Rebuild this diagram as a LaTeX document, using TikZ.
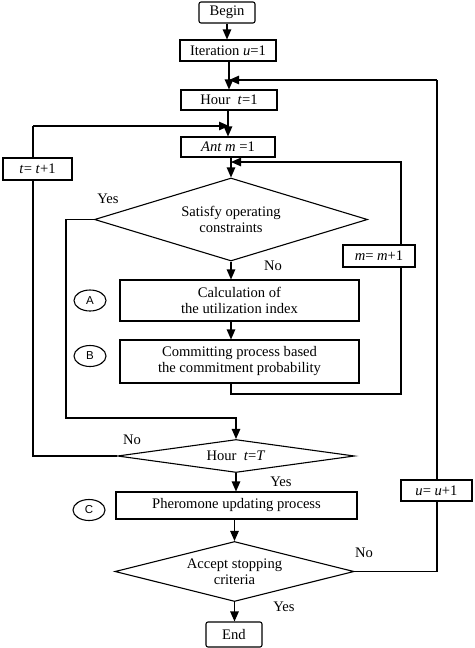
\documentclass[tikz,border=0pt]{standalone}
\usepackage{fontspec}
\setmainfont{Liberation Serif}
\newfontfamily\circfont{Liberation Sans}
\usetikzlibrary{shapes.geometric,arrows.meta}
\tikzset{
  box/.style={draw, rectangle, inner sep=0pt, align=center, fill=white},
  dia/.style={draw, diamond, inner sep=0pt, align=center},
  tag/.style={draw, ellipse, inner sep=0pt, minimum width=32pt, minimum height=21pt, font=\circfont\fontsize{11.5}{13}\selectfont},
  flow/.style={draw, line width=1.1pt, -{Triangle[length=10pt,width=8.5pt]}},
  wire/.style={draw, line width=1.1pt, -}
}
\begin{document}
\begin{tikzpicture}[x=1pt, y=-1pt, line width=1.1pt, font=\fontsize{14.6}{16}\selectfont]
\useasboundingbox (0,0) rectangle (474,648);
\node[box, rounded corners=2pt, minimum width=56pt, minimum height=21pt] (begin) at (227,12.5) {Begin};
\node[box, minimum width=96pt, minimum height=21pt] (iter) at (228,50.5) {Iteration \textit{u}=1};
\node[box, minimum width=96pt, minimum height=20pt] (hour1) at (229,100) {Hour \ \textit{t}=1};
\node[box, minimum width=94pt, minimum height=20pt] (ant) at (228,147) {\textit{Ant m} =1};
\node[dia, aspect=3.3, minimum width=273pt, minimum height=83pt] (sat) at (231,219.5) {Satisfy operating\\constraints};
\node[box, minimum width=239pt, minimum height=41pt] (calc) at (239.5,300.5) {Calculation of\\the utilization index};
\node[box, minimum width=239pt, minimum height=43pt] (commit) at (239.5,361.5) {Committing process based\\the commitment probability};
\node[dia, aspect=7.2, minimum width=237pt, minimum height=33pt] (hourT) at (236,456) {Hour \ \textit{t}=\textit{T}};
\node[box, minimum width=241pt, minimum height=27pt] (pher) at (236.5,505.5) {Pheromone updating process};
\node[dia, aspect=4, minimum width=239pt, minimum height=60pt] (stop) at (234.5,571.5) {Accept stopping\\criteria};
\node[box, rounded corners=2pt, minimum width=56pt, minimum height=25pt] (end) at (234,634.5) {End};
\node[tag] (tagA) at (90,300.5) {A};
\node[tag] (tagB) at (90,356) {B};
\node[tag] (tagC) at (89,510) {C};
\coordinate (ujoin) at (229,80);
\coordinate (ucorner) at (437,80);
\coordinate (tjoin) at (229,126);
\coordinate (tcorner) at (33,126);
\coordinate (mjoin) at (231,162);
\coordinate (mcorner) at (401,394);
\coordinate (ycorner) at (66,418);
% main column
\path[flow] (begin) -- (begin |- iter.north);
\path[flow] (iter.south -| hour1) -- (hour1.north);
\path[flow] (hour1.south -| ant) -- (ant.north);
\path[flow] (ant.south -| sat) -- (sat.north);
\path[flow] (sat.south) -- (sat.south |- calc.north);
\path[flow] (calc.south -| sat) -- (sat |- commit.north);
\path[flow] (hourT.south) -- (hourT.south |- pher.north);
\path[flow] (pher.south -| stop) -- (stop.north);
\path[flow] (stop.south) -- (stop.south |- end.north);
% loops
\path[flow] (commit.south -| sat) |- (mcorner) |- (mjoin);
\path[flow] (sat.west) -| (ycorner) -| (hourT.north);
\path[wire] (hourT.west) -| (tcorner);
\path[flow] (tcorner) -- (tjoin);
\path[wire] (stop.east) -| (ucorner);
\path[flow] (ucorner) -- (ujoin);
\node[box, minimum width=72pt, minimum height=22pt] (mnext) at (379,256) {\textit{m}= \textit{m}+1};
\node[box, minimum width=69pt, minimum height=22pt] (tnext) at (37.5,169) {\textit{t}= \textit{t}+1};
\node[box, minimum width=71pt, minimum height=21pt] (unext) at (436.5,490.5) {\textit{u}= \textit{u}+1};
% labels
\node (yes1) at (108,199) {Yes};
\node (no1) at (273,266) {No};
\node (no2) at (132,440) {No};
\node (yes2) at (281,482) {Yes};
\node (no3) at (364,553) {No};
\node (yes3) at (284,607) {Yes};
\end{tikzpicture}
\end{document}
